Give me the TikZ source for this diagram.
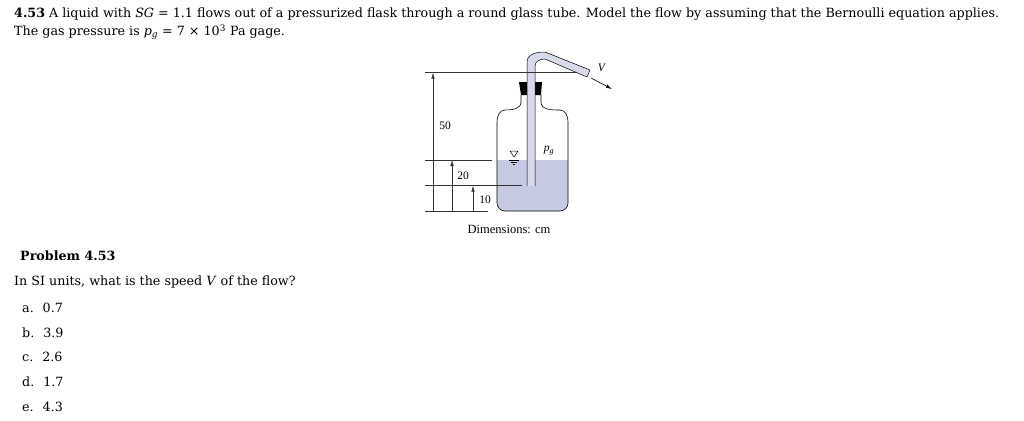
\documentclass[tikz,border=0pt]{standalone}
\usepackage{fontspec}
\setmainfont{Liberation Serif}
\newfontfamily\qfont{DejaVu Serif}
\usetikzlibrary{arrows.meta}
\definecolor{liq}{HTML}{C5CAE2}
\begin{document}
\begin{tikzpicture}[x=1pt,y=-1pt,
  txt/.style={anchor=west,inner sep=0pt,font=\qfont\fontsize{12.7}{15}\selectfont},
  dim/.style={line width=0.5pt,draw=black!80},
  dimarr/.style={dim,-{Latex[length=6pt,width=3.5pt]}},
  lab/.style={inner sep=0pt,font=\fontsize{11.5}{13}\selectfont}]
\useasboundingbox (0,0) rectangle (1024,420);
% text
\node[txt] (t1) at (14,14) {\textbf{4.53} A liquid with \textit{SG} = 1.1 flows out of a pressurized flask through a round glass tube. Model the flow by assuming that the Bernoulli equation applies.};
\node[txt] (t2) at (14,32) {The gas pressure is \textit{p\textsubscript{g}} = 7 × 10\textsuperscript{3} Pa gage.};
\node[txt] (p) at (20,256) {\textbf{Problem 4.53}};
\node[txt] (q) at (14,282) {In SI units, what is the speed \textit{V} of the flow?};
\node[txt] (a) at (22,308) {a.\; 0.7};
\node[txt] (b) at (22,333) {b.\; 3.9};
\node[txt] (c) at (22,357) {c.\; 2.6};
\node[txt] (d) at (22,382) {d.\; 1.7};
\node[txt] (e) at (22,407) {e.\; 4.3};
% liquid
\fill[liq] (497,160) -- (568,160) -- (568,203) to[out=-90,in=0] (560,211) -- (505,211) to[out=180,in=-90] (497,203) -- cycle;
% bottle
\draw[line width=0.6pt] (521,95) -- (521,102) to[out=-90,in=0] (505,110) to[out=180,in=90] (497,122) -- (497,203) to[out=-90,in=180] (505,211) -- (560,211) to[out=0,in=-90] (568,203) -- (568,122) to[out=90,in=0] (560,110) to[out=180,in=-90] (541,102) -- (541,95);
\fill[black] (519,82) -- (542,82) -- (541,95) -- (521,95) -- cycle;
% tube
\fill[liq!70] (527,186) -- (527,62) to[out=90,in=180] (545,52) -- (590,70) -- (587,77) -- (545,59) to[out=180,in=90] (535,66) -- (535,186) -- cycle;
\draw[line width=0.5pt] (527,186) -- (527,62) to[out=90,in=180] (545,52) -- (590,70) -- (587,77) -- (545,59) to[out=180,in=90] (535,66) -- (535,186);
% dims
\draw[dim] (425,72.7) -- (577,72.7);
\draw[dim] (425,160) -- (492,160);
\draw[dim] (425,185.7) -- (522,185.7);
\draw[dim] (425,211) -- (488,211);
\coordinate (b50) at (433,211); \coordinate (t50) at (433,72.7);
\coordinate (b20) at (452,211); \coordinate (t20) at (452,160);
\coordinate (b10) at (473,211); \coordinate (t10) at (473,185.7);
\draw[dimarr] (b50) -- (t50);
\draw[dimarr] (b20) -- (t20);
\draw[dimarr] (b10) -- (t10);
\node[lab] (l50) at (445,126) {50};
\node[lab] (l20) at (463,176) {20};
\node[lab] (l10) at (485,200) {10};
% free surface symbol
\draw[line width=0.5pt] (510,151) -- (518,151) -- (514,157) -- cycle;
\draw[line width=0.5pt] (509,160) -- (519,160) (511,162) -- (517,162) (513,164) -- (515,164);
\node[lab] (pg) at (549,151) {\textit{p}\textsubscript{\textit{g}}};
% V
\coordinate (vs) at (591,78); \coordinate (ve) at (612,89);
\draw[-{Latex[length=6pt,width=3.5pt]},line width=0.6pt] (vs) -- (ve);
\node[lab] (V) at (602,68) {\textit{V}};
\node[lab,font=\fontsize{12.5}{14}\selectfont] (dc) at (509,229) {Dimensions: cm};
\end{tikzpicture}
\end{document}
